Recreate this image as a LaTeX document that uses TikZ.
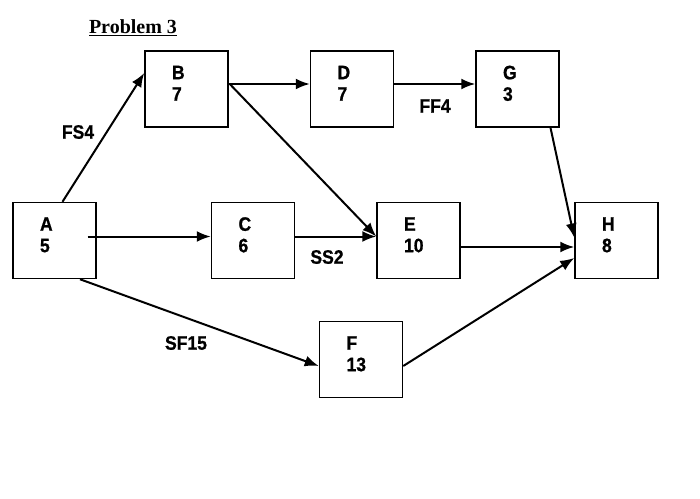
\documentclass[tikz,border=0pt]{standalone}
\usepackage{fontspec}
\setmainfont{Liberation Sans}
\newfontfamily\narrowsans[FakeStretch=0.9,FakeBold=0.8]{Liberation Sans Bold}
\newfontfamily\titlefont{Liberation Serif}
\usepackage{tikz}
\usetikzlibrary{calc,positioning,arrows.meta}

\begin{document}
\begin{tikzpicture}[
            x=1pt,y=-1pt,
            actbox/.style={draw,line width=1.5pt,minimum width=83pt,minimum height=76pt,
                inner xsep=0pt,text width=29pt,align=left,text depth=33pt,
                font=\narrowsans\fontsize{19.5}{21.5}\selectfont},
            link/.style={line width=2pt,-{Latex[length=14pt,width=11pt]}},
            lag/.style={font=\narrowsans\fontsize{19.5}{21.5}\selectfont}
        ]
            \useasboundingbox (0,0) rectangle (700,498);

            \node[font=\titlefont\fontsize{20}{24}\selectfont\bfseries] (title) at (133,28) {\underline{Problem 3}};

            \node[actbox] (A) at (54.5,240.5) {A\\5};
            \node[actbox] (B) at (186.5,89) {B\\7};
            \node[actbox] (D) at (352,89) {D\\7};
            \node[actbox] (G) at (517.5,89) {G\\3};
            \node[actbox] (C) at (253,240.5) {C\\6};
            \node[actbox] (E) at (418.5,240.5) {E\\10};
            \node[actbox] (H) at (616.5,240.5) {H\\8};
            \node[actbox] (F) at (361,359.5) {F\\13};

            \draw[link] ($(A.north)+(8,0)$) -- ($(B.west)+(0,-16)$);
            \draw[link] ($(B.east)+(0,-5)$) -- ($(D.west)+(0,-5)$);
            \draw[link] ($(D.east)+(0,-5)$) -- ($(G.west)+(0,-5)$);
            \draw[link] ($(B.east)+(1,-5)$) -- ($(E.west)+(0,-4)$);
            \draw[link] ($(A.center)+(33,-4)$) -- ($(C.west)+(0,-4)$);
            \draw[link] ($(C.east)+(0,-4)$) -- ($(E.west)+(0,-4)$);
            \draw[link] ($(E.east)+(0,6.5)$) -- ($(H.west)+(0,6.5)$);
            \draw[link] ($(G.south)+(33,0)$) -- ($(H.west)+(0,-3)$);
            \draw[link] ($(A.south)+(25.5,0)$) -- ($(F.west)+(0,6.5)$);
            \draw[link] ($(F.east)+(0,6.5)$) -- ($(H.west)+(0,17.5)$);

            \node[lag] (fs) at (78,132) {FS4};
            \node[lag] (ff) at (435,106) {FF4};
            \node[lag] (ss) at (327,257) {SS2};
            \node[lag] (sf) at (186,343) {SF15};
        \end{tikzpicture}
\end{document}
